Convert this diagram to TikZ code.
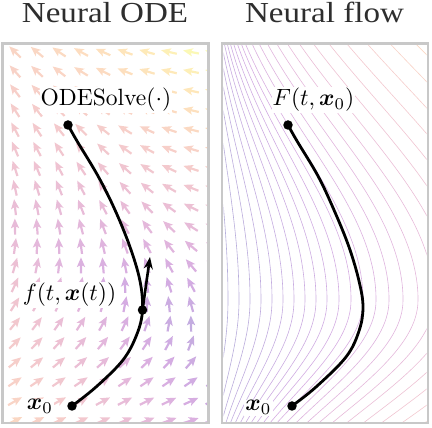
\RequirePackage{fix-cm}
\documentclass[tikz,border=0pt]{standalone}
\usepackage{amsmath,bm,graphicx}
\usepackage[no-math]{fontspec}
\newfontfamily\titlefont{Liberation Serif}
\usetikzlibrary{arrows.meta}
\definecolor{pl0}{HTML}{0D0887}
\definecolor{pl1}{HTML}{4C02A1}
\definecolor{pl2}{HTML}{7E03A8}
\definecolor{pl3}{HTML}{A92395}
\definecolor{pl4}{HTML}{CC4778}
\definecolor{pl5}{HTML}{E56B5D}
\definecolor{pl6}{HTML}{F89540}
\definecolor{pl7}{HTML}{FDC328}
\definecolor{pl8}{HTML}{F0F921}
\definecolor{pl9}{HTML}{F0F921}
\definecolor{bordergray}{HTML}{C8C8C8}
\definecolor{titlegray}{HTML}{2E2E2E}
\newcommand{\plasmaset}[2]{%
  \pgfmathsetmacro{\pqq}{min(max(#1,0),0.999)*8}%
  \pgfmathtruncatemacro{\pqi}{floor(\pqq)}%
  \pgfmathtruncatemacro{\pqt}{100*(1-(\pqq-\pqi))}%
  \pgfmathtruncatemacro{\pqj}{\pqi+1}%
  \colorlet{#2}{pl\pqi!\pqt!pl\pqj}}
\newcommand{\bigmath}[1]{\scalebox{2.35}{\fontsize{10}{12}\selectfont$#1$}}
\newcommand{\titletext}[1]{\scalebox{1.14}[1]{\titlefont\fontsize{29}{32}\selectfont #1}}
\tikzset{
  panel/.style={draw=bordergray, line width=2.5pt},
  title/.style={text=titlegray, anchor=base, inner sep=0pt},
  lbl/.style={anchor=base, fill=white, inner sep=1pt},
  traj/.style={line width=2.8pt, line cap=round, line join=round},
  dot/.style={circle, fill=black, inner sep=0pt, minimum size=9.5pt},
}
\begin{document}
\begin{tikzpicture}[x=1pt,y=1pt]
\useasboundingbox (0,0) rectangle (432,428);
% ---------- left panel: quiver field ----------
\begin{scope}
\clip (4,6.5) rectangle (207,382.5);
\foreach \i in {0,...,9}{
 \foreach \j in {0,...,19}{
  \pgfmathsetmacro{\qx}{15+22*\i}
  \pgfmathsetmacro{\qy}{52+19.4*\j}
  \pgfmathsetmacro{\uu}{(\qx-15)/185}
  \pgfmathsetmacro{\dd}{230+100*\uu-\qy}
  \pgfmathsetmacro{\ss}{ifthenelse(\dd>0,275-175*\uu,175-115*\uu)}
  \pgfmathsetmacro{\ang}{90+80*tanh(\dd/\ss)}
  \pgfmathsetmacro{\qv}{0.42-0.32*\uu+ifthenelse(\dd>0,0.0015+0.0017*\uu,0.0015+0.0005*\uu)*abs(\dd)}
  \plasmaset{\qv}{qc}
  \fill[qc!33!white, shift={(\qx,428-\qy)}, rotate=\ang]
    (-8,-1.1) -- (0,-1.1) -- (-1.8,-4.2) -- (8,0) -- (-1.8,4.2) -- (0,1.1) -- (-8,1.1) -- cycle;
 }}
\end{scope}
% ---------- right panel: flow lines ----------
\begin{scope}
\clip (223.5,6.5) rectangle (426.5,382.5);
\foreach \P in {6,17,28,39,50,61,72,83,94,105,117,129,141,154,167,181,196,212,229,248,268,290,314,340,368,398}{
  \pgfmathsetmacro{\sa}{153+ifthenelse(\P>141,0.35,0.15)*(\P-141)}
  \pgfmathsetmacro{\sb}{97+ifthenelse(\P>141,0.22,0.12)*(\P-141)}
  \pgfmathsetmacro{\lq}{0.02+0.75*min(1,\P/400)}
  \plasmaset{\lq}{lc}
  \draw[lc!33!white, line width=0.6pt] plot[domain=4:384, samples=90, smooth]
    ({207+(\P+15)*exp(-0.5*((\x-128)/ifthenelse(\x>128,\sa,\sb))^2)}, \x);
}
\end{scope}
% ---------- frames ----------
\draw[panel] (2.5,5) rectangle (208.5,384.5);
\draw[panel] (222,5) rectangle (428,384.5);
% ---------- titles ----------
\node[title] (t1) at (105,405) {\titletext{Neural ODE}};
\node[title] (t2) at (324.5,405) {\titletext{Neural flow}};
% ---------- left trajectory ----------
\coordinate (a0) at (72,22);
\coordinate (a1) at (142.5,118);
\coordinate (a2) at (68,303);
\coordinate (atip) at (150,171);
\draw[traj] plot[smooth, tension=0.6] coordinates {(a0) (96,41) (123,68) (137,94) (a1) (140,147) (130,181) (115,218) (98,252) (77,287) (a2)};
\draw[line width=2.6pt, -{Stealth[length=12pt,width=9pt]}] (a1) -- (atip);
\node[dot] (d0) at (a0) {};
\node[dot] (d1) at (a1) {};
\node[dot] (d2) at (a2) {};
% ---------- right trajectory ----------
\coordinate (b0) at (292,22);
\coordinate (b2) at (288,303);
\draw[traj] plot[smooth, tension=0.6] coordinates {(b0) (316,41) (346,71) (359,97) (363,121) (359,147) (349,181) (334,218) (318,252) (297,287) (b2)};
\node[dot] (e0) at (b0) {};
\node[dot] (e2) at (b2) {};
% ---------- labels ----------
\node[lbl] (l1) at (106,322) {\bigmath{\mathrm{ODESolve}(\cdot)}};
\node[lbl] (l2) at (69.5,127) {\bigmath{f(t,\bm{x}(t))}};
\node[lbl] (l3) at (40,18) {\bigmath{\bm{x}_0}};
\node[lbl] (l4) at (313.5,322) {\bigmath{F(t,\bm{x}_0)}};
\node[lbl] (l5) at (258.5,17) {\bigmath{\bm{x}_0}};
\end{tikzpicture}
\end{document}
